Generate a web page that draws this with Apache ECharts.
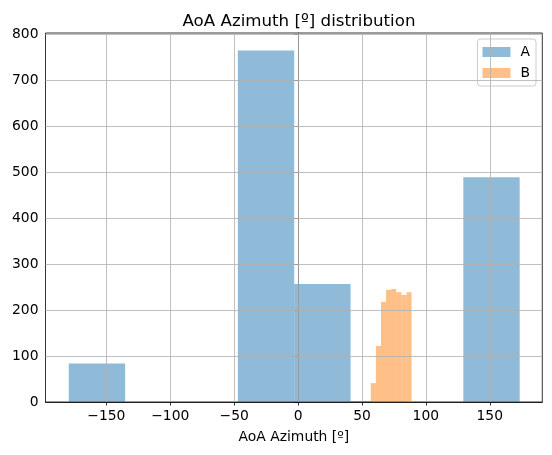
<!DOCTYPE html>
<html><head><meta charset="utf-8">
<script src="https://cdn.jsdelivr.net/npm/echarts@6/dist/echarts.min.js"></script>
<style>html,body{margin:0;padding:0;background:#fff}#c{width:552px;height:455px}</style>
</head><body><div id="c"></div>
<script>
const binEdgesA = [-179.4, -135.3, -91.2, -47.1, -3.0, 41.1, 85.2, 129.3, 173.4];
const countsA = [84, 0, 0, 765, 257, 2, 0, 489];
const binEdgesB = [56.9, 60.89, 64.88, 68.86, 72.85, 76.84, 80.83, 84.81, 88.8];
const countsB = [41, 122, 218, 244, 246, 239, 233, 239];
const xTicks = [-150, -100, -50, 0, 50, 100, 150];
const yTicks = [0, 100, 200, 300, 400, 500, 600, 700, 800];

const FONT = 'DejaVu Sans';
const colA = 'rgba(31,119,180,0.5)';
const colB = 'rgba(255,127,14,0.5)';

function histData(edges, counts) {
  return counts.map((c, i) => [edges[i], edges[i + 1], c]);
}
function renderHist(color) {
  return function (params, api) {
    const p0 = api.coord([api.value(0), 0]);
    const p1 = api.coord([api.value(1), api.value(2)]);
    return {
      type: 'rect',
      shape: { x: p0[0], y: p1[1], width: p1[0] - p0[0], height: p0[1] - p1[1] },
      style: { fill: color }
    };
  };
}
const gridLine = { color: '#b0b0b0', width: 0.8, type: 'solid' };

const chart = echarts.init(document.getElementById('c'), null, { renderer: 'canvas' });
chart.setOption({
  animation: false,
  textStyle: { fontFamily: FONT },
  title: {
    text: 'AoA Azimuth [º] distribution',
    left: 294, textAlign: 'center', top: 8,
    textStyle: { fontFamily: FONT, fontSize: 16.67, fontWeight: 'normal', color: '#000' }
  },
  legend: {
    orient: 'vertical', right: 16, top: 39,
    padding: [6, 6, 6, 5],
    itemWidth: 28, itemHeight: 10, itemGap: 7,
    borderColor: '#cccccc', borderWidth: 1, borderRadius: 3,
    backgroundColor: 'rgba(255,255,255,0.8)',
    textStyle: { fontFamily: FONT, fontSize: 13.89, color: '#000', padding: [0, 0, 0, 5] },
    data: [{ name: 'A', icon: 'rect' }, { name: 'B', icon: 'rect' }]
  },
  grid: {
    left: 45.5, right: 9.7, top: 33, bottom: 53,
    show: true, borderColor: '#000', borderWidth: 0.8, backgroundColor: 'transparent'
  },
  xAxis: {
    type: 'value', min: -197.6, max: 191.1,
    name: 'AoA Azimuth [º]', nameLocation: 'middle', nameGap: 28,
    nameTextStyle: { fontFamily: FONT, fontSize: 13.89, color: '#000' },
    axisLine: { show: true, lineStyle: { color: '#000', width: 0.8 } },
    axisTick: { show: true, customValues: xTicks, length: 3.5, lineStyle: { color: '#000', width: 0.8 } },
    axisLabel: { customValues: xTicks, margin: 7, fontFamily: FONT, fontSize: 13.89, color: '#000',
      formatter: v => (v < 0 ? '\u2212' + Math.abs(v) : String(v)) },
    splitLine: { show: false }
  },
  yAxis: {
    type: 'value', min: 0, max: 803.25,
    axisLine: { show: true, lineStyle: { color: '#000', width: 0.8 } },
    axisTick: { show: true, customValues: yTicks, length: 3.5, lineStyle: { color: '#000', width: 0.8 } },
    axisLabel: { customValues: yTicks, margin: 7, fontFamily: FONT, fontSize: 13.89, color: '#000' },
    splitLine: { show: false }
  },
  series: [
    {
      name: 'A', type: 'custom', itemStyle: { color: colA },
      renderItem: renderHist(colA),
      encode: { x: [0, 1], y: 2 },
      data: histData(binEdgesA, countsA), z: 2
    },
    {
      name: 'B', type: 'custom', itemStyle: { color: colB },
      renderItem: renderHist(colB),
      encode: { x: [0, 1], y: 2 },
      data: histData(binEdgesB, countsB), z: 3
    },
    {
      name: 'grid', type: 'line', data: [], silent: true, z: 4,
      markLine: {
        silent: true, symbol: 'none', label: { show: false }, animation: false,
        lineStyle: gridLine,
        data: xTicks.map(v => ({ xAxis: v })).concat(yTicks.slice(1).map(v => ({ yAxis: v })))
      }
    }
  ]
});
</script></body></html>
